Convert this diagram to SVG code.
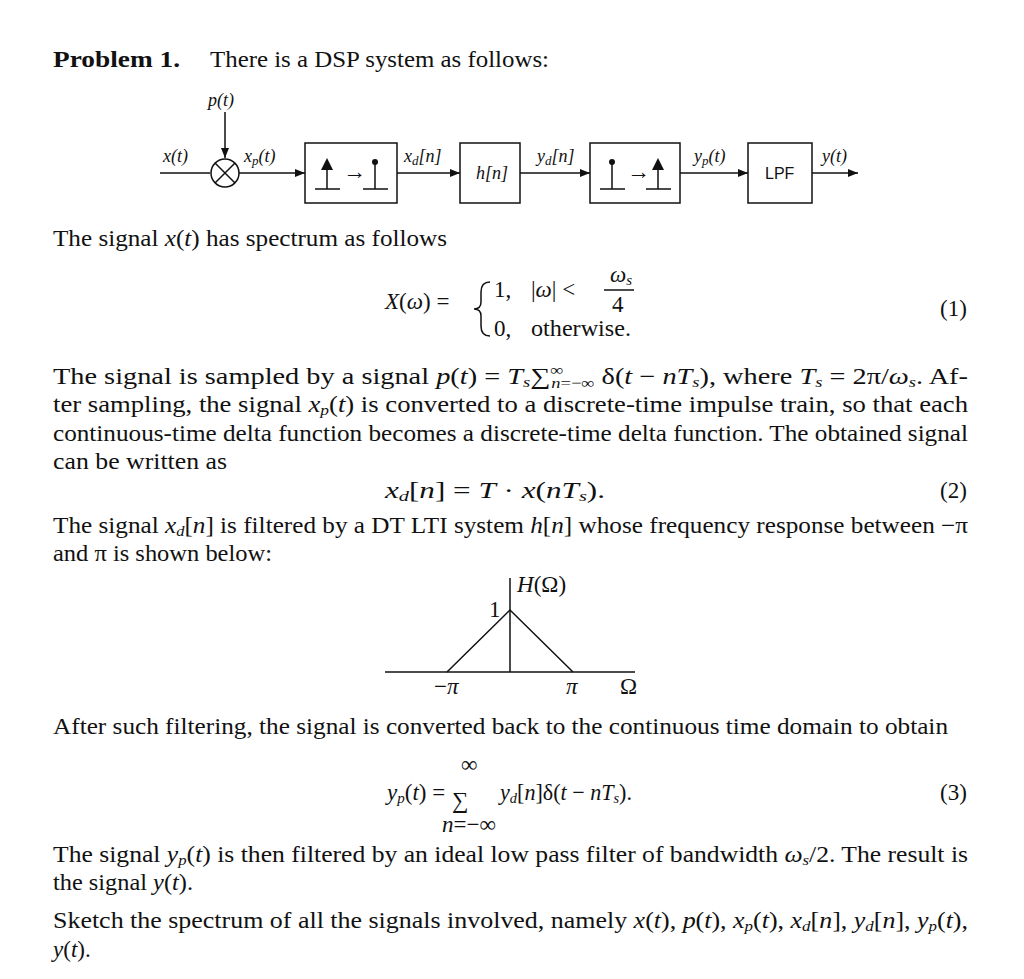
<svg xmlns="http://www.w3.org/2000/svg" width="1024" height="979" viewBox="0 0 1024 979">
<style>
text{font-family:"Liberation Serif","DejaVu Serif",serif;font-size:23px;fill:#111}
.i{font-style:italic}
.s{font-size:15px}
.b{font-weight:bold}
.sf{font-family:"Liberation Sans",Arial,sans-serif;font-size:16px}
.ln{stroke:#111;stroke-width:1.5;fill:none}
.bx{stroke:#111;stroke-width:1.5;fill:#fff}
.ml{font-size:18px;font-style:italic}
.ml .s{font-size:13px}
</style>
<defs><marker id="ar" markerWidth="10" markerHeight="8" refX="10" refY="4" orient="auto" markerUnits="userSpaceOnUse"><path d="M0,0 L10,4 L0,8 Z" fill="#111"/></marker></defs>
<rect width="1024" height="979" fill="#fff"/>
<text x="53" y="67" class="b" textLength="127" lengthAdjust="spacingAndGlyphs">Problem 1.</text>
<text x="210" y="67" textLength="339" lengthAdjust="spacingAndGlyphs">There is a DSP system as follows:</text>
<g id="connectors">
<line class="ln" x1="160" y1="173" x2="210" y2="173"/>
<line class="ln" x1="225" y1="112" x2="225" y2="158" marker-end="url(#ar)"/>
<line class="ln" x1="239" y1="173" x2="305" y2="173" marker-end="url(#ar)"/>
<line class="ln" x1="397" y1="173" x2="460" y2="173" marker-end="url(#ar)"/>
<line class="ln" x1="520" y1="173" x2="590" y2="173" marker-end="url(#ar)"/>
<line class="ln" x1="680" y1="173" x2="748" y2="173" marker-end="url(#ar)"/>
<line class="ln" x1="812" y1="173" x2="858" y2="173" marker-end="url(#ar)"/>
</g>
<text class="ml" x="208" y="106">p(t)</text>
<text class="ml" x="163" y="162">x(t)</text>
<text class="ml" x="244" y="162">x<tspan class="s" dy="3">p</tspan><tspan dy="-3">(t)</tspan></text>
<text class="ml" x="404" y="162">x<tspan class="s" dy="3">d</tspan><tspan dy="-3">[n]</tspan></text>
<text class="ml" x="537" y="162">y<tspan class="s" dy="3">d</tspan><tspan dy="-3">[n]</tspan></text>
<text class="ml" x="694" y="162">y<tspan class="s" dy="3">p</tspan><tspan dy="-3">(t)</tspan></text>
<text class="ml" x="822" y="162">y(t)</text>
<g id="mult"><circle class="bx" cx="225" cy="173" r="14"/><path class="ln" d="M215,163 L235,183 M235,163 L215,183"/></g>
<g id="c2d"><rect class="bx" x="305" y="143" width="92" height="60"/>
<path class="ln" d="M315,189 H340 M327,189 V167 M363,189 H388 M375,189 V163"/><path d="M321,170 L327,158 L333,170 Z" fill="#111"/><circle cx="375" cy="162" r="3" fill="#111"/>
<text x="343" y="179" font-size="16">→</text></g>
<g id="h"><rect class="bx" x="460" y="143" width="60" height="60"/><text class="ml" x="476" y="179">h[n]</text></g>
<g id="d2c"><rect class="bx" x="590" y="143" width="90" height="60"/>
<path class="ln" d="M600,189 H625 M612,189 V163 M646,189 H671 M658,189 V167"/><circle cx="612" cy="162" r="3" fill="#111"/><path d="M652,170 L658,158 L664,170 Z" fill="#111"/>
<text x="627" y="179" font-size="16">→</text></g>
<g id="lpf"><rect class="bx" x="748" y="143" width="64" height="60"/><text class="sf" x="765" y="179">LPF</text></g>

<text x="53" y="246" textLength="394" lengthAdjust="spacingAndGlyphs">The signal <tspan class="i">x</tspan>(<tspan class="i">t</tspan>) has spectrum as follows</text>
<text x="385" y="309"><tspan class="i">X</tspan>(<tspan class="i">ω</tspan>) =</text>
<path d="M490,282 Q481,282 481,292 V302 Q481,309 474,309 Q481,309 481,316 V326 Q481,336 490,336" class="ln"/>
<text x="494" y="297">1,</text><text x="531" y="297">|<tspan class="i">ω</tspan>| &lt;</text>
<text x="610" y="282" class="i" font-size="21">ω<tspan class="s" dy="3">s</tspan></text><line class="ln" x1="604" y1="290" x2="634" y2="290" stroke-width="1"/><text x="612" y="312" font-size="20">4</text>
<text x="494" y="336">0,</text><text x="531" y="336" textLength="100" lengthAdjust="spacingAndGlyphs">otherwise.</text>
<text x="940" y="316">(1)</text>
<text x="53" y="384" textLength="915" lengthAdjust="spacingAndGlyphs">The signal is sampled by a signal <tspan class="i">p</tspan>(<tspan class="i">t</tspan>) = <tspan class="i">T<tspan class="s" dy="3">s</tspan></tspan><tspan dy="-3">∑</tspan><tspan class="s" dy="-9">∞</tspan><tspan class="s" dx="-10" dy="13"><tspan class="i">n</tspan>=−∞</tspan><tspan dy="-4"> δ(</tspan><tspan class="i">t</tspan> − <tspan class="i">nT<tspan class="s" dy="3">s</tspan></tspan><tspan dy="-3">), where </tspan><tspan class="i">T<tspan class="s" dy="3">s</tspan></tspan><tspan dy="-3"> = 2π/</tspan><tspan class="i">ω<tspan class="s" dy="3">s</tspan></tspan><tspan dy="-3">. Af-</tspan></text>
<text x="53" y="412" textLength="915" lengthAdjust="spacingAndGlyphs">ter sampling, the signal <tspan class="i">x<tspan class="s" dy="3">p</tspan></tspan><tspan dy="-3">(</tspan><tspan class="i">t</tspan>) is converted to a discrete-time impulse train, so that each</text>
<text x="53" y="441" textLength="915" lengthAdjust="spacingAndGlyphs">continuous-time delta function becomes a discrete-time delta function. The obtained signal</text>
<text x="53" y="469" textLength="174" lengthAdjust="spacingAndGlyphs">can be written as</text>
<text x="385" y="498" textLength="220" lengthAdjust="spacingAndGlyphs"><tspan class="i">x<tspan class="s" dy="3">d</tspan></tspan><tspan dy="-3">[</tspan><tspan class="i">n</tspan>] = <tspan class="i">T</tspan> · <tspan class="i">x</tspan>(<tspan class="i">nT<tspan class="s" dy="3">s</tspan></tspan><tspan dy="-3">).</tspan></text>
<text x="940" y="498">(2)</text>
<text x="53" y="533" textLength="915" lengthAdjust="spacingAndGlyphs">The signal <tspan class="i">x<tspan class="s" dy="3">d</tspan></tspan><tspan dy="-3">[</tspan><tspan class="i">n</tspan>] is filtered by a DT LTI system <tspan class="i">h</tspan>[<tspan class="i">n</tspan>] whose frequency response between −π</text>
<text x="53" y="561" textLength="219" lengthAdjust="spacingAndGlyphs">and π is shown below:</text>
<g id="plot">
<line class="ln" x1="385" y1="672" x2="635" y2="672" stroke-width="1"/>
<line class="ln" x1="510" y1="578" x2="510" y2="672" stroke-width="1"/>
<path class="ln" d="M447,672 L510,610 L573,672" stroke-width="2"/>
<text x="434" y="694" font-size="18">−<tspan class="i">π</tspan></text>
<text x="566" y="694" font-size="18" class="i">π</text>
<text x="620" y="694" font-size="18">Ω</text>
<text x="489" y="617" font-size="18">1</text>
<text x="517" y="592" font-size="18"><tspan class="i">H</tspan>(Ω)</text>
</g>
<text x="53" y="734" textLength="895" lengthAdjust="spacingAndGlyphs">After such filtering, the signal is converted back to the continuous time domain to obtain</text>
<text x="387" y="800"><tspan class="i">y<tspan class="s" dy="3">p</tspan></tspan><tspan dy="-3">(</tspan><tspan class="i">t</tspan>) =</text>
<text x="452" y="808" font-size="52">∑</text>
<text x="461" y="772" font-size="16">∞</text>
<text x="442" y="832" font-size="16"><tspan class="i">n</tspan>=−∞</text>
<text x="500" y="800" textLength="132" lengthAdjust="spacingAndGlyphs"><tspan class="i">y<tspan class="s" dy="3">d</tspan></tspan><tspan dy="-3">[</tspan><tspan class="i">n</tspan>]δ(<tspan class="i">t</tspan> − <tspan class="i">nT<tspan class="s" dy="3">s</tspan></tspan><tspan dy="-3">).</tspan></text>
<text x="940" y="800">(3)</text>
<text x="53" y="862" textLength="915" lengthAdjust="spacingAndGlyphs">The signal <tspan class="i">y<tspan class="s" dy="3">p</tspan></tspan><tspan dy="-3">(</tspan><tspan class="i">t</tspan>) is then filtered by an ideal low pass filter of bandwidth <tspan class="i">ω<tspan class="s" dy="3">s</tspan></tspan><tspan dy="-3">/2. The result is</tspan></text>
<text x="53" y="890" textLength="140" lengthAdjust="spacingAndGlyphs">the signal <tspan class="i">y</tspan>(<tspan class="i">t</tspan>).</text>
<text x="53" y="928" textLength="915" lengthAdjust="spacingAndGlyphs">Sketch the spectrum of all the signals involved, namely <tspan class="i">x</tspan>(<tspan class="i">t</tspan>), <tspan class="i">p</tspan>(<tspan class="i">t</tspan>), <tspan class="i">x<tspan class="s" dy="3">p</tspan></tspan><tspan dy="-3">(</tspan><tspan class="i">t</tspan>), <tspan class="i">x<tspan class="s" dy="3">d</tspan></tspan><tspan dy="-3">[</tspan><tspan class="i">n</tspan>], <tspan class="i">y<tspan class="s" dy="3">d</tspan></tspan><tspan dy="-3">[</tspan><tspan class="i">n</tspan>], <tspan class="i">y<tspan class="s" dy="3">p</tspan></tspan><tspan dy="-3">(</tspan><tspan class="i">t</tspan>),</text>
<text x="53" y="957"><tspan class="i">y</tspan>(<tspan class="i">t</tspan>).</text>
</svg>
